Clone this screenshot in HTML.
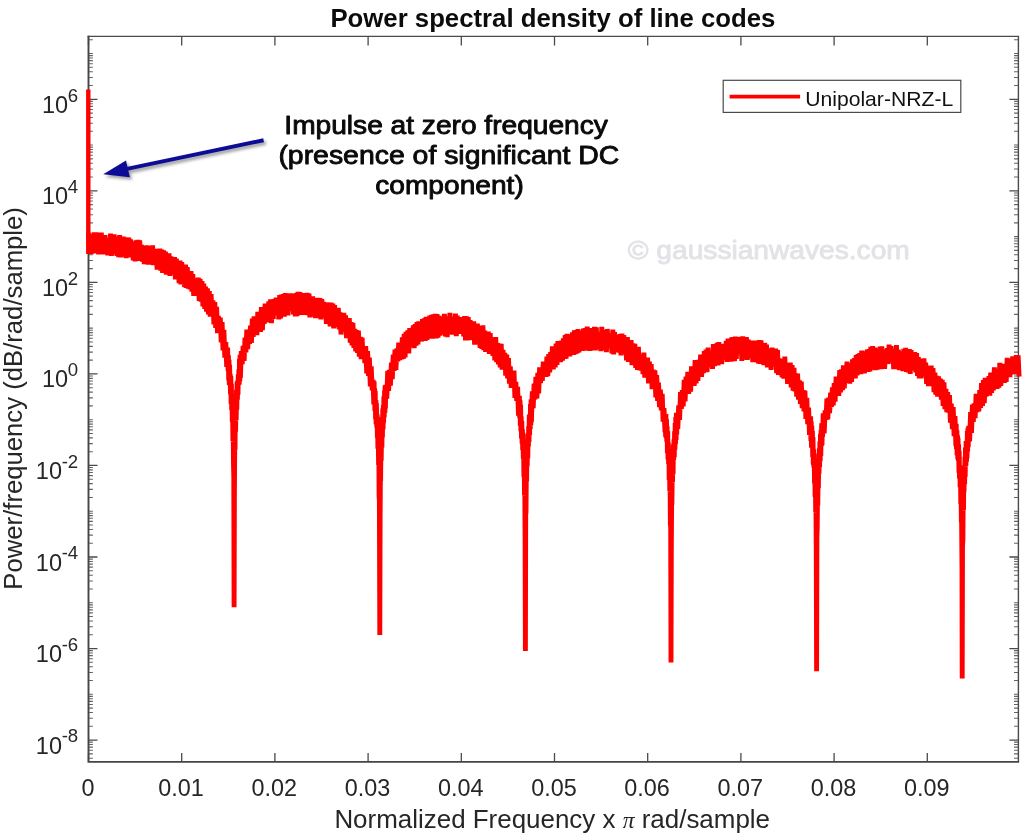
<!DOCTYPE html>
<html lang="en"><head><meta charset="utf-8"><title>Power spectral density of line codes</title>
<style>html,body{margin:0;padding:0;background:#fff}body{width:1024px;height:838px;overflow:hidden}svg{display:block}text{font-family:"Liberation Sans",Arial,Helvetica,sans-serif}</style></head><body>
<svg width="1024" height="838" viewBox="0 0 1024 838">
<defs><filter id="sh" x="-20%" y="-40%" width="140%" height="200%"><feGaussianBlur stdDeviation="1.6"/></filter></defs>
<rect width="1024" height="838" fill="#fff"/>
<path d="M88.5 758.29h4.4M1018.4 758.29h-4.4M88.5 753.86h4.4M1018.4 753.86h-4.4M88.5 750.23h4.4M1018.4 750.23h-4.4M88.5 747.17h4.4M1018.4 747.17h-4.4M88.5 744.52h4.4M1018.4 744.52h-4.4M88.5 742.17h4.4M1018.4 742.17h-4.4M88.5 726.30h4.4M1018.4 726.30h-4.4M88.5 718.24h4.4M1018.4 718.24h-4.4M88.5 712.52h4.4M1018.4 712.52h-4.4M88.5 708.09h4.4M1018.4 708.09h-4.4M88.5 704.46h4.4M1018.4 704.46h-4.4M88.5 701.40h4.4M1018.4 701.40h-4.4M88.5 698.75h4.4M1018.4 698.75h-4.4M88.5 696.40h4.4M1018.4 696.40h-4.4M88.5 694.31h4.4M1018.4 694.31h-4.4M88.5 680.53h4.4M1018.4 680.53h-4.4M88.5 672.47h4.4M1018.4 672.47h-4.4M88.5 666.75h4.4M1018.4 666.75h-4.4M88.5 662.32h4.4M1018.4 662.32h-4.4M88.5 658.69h4.4M1018.4 658.69h-4.4M88.5 655.63h4.4M1018.4 655.63h-4.4M88.5 652.98h4.4M1018.4 652.98h-4.4M88.5 650.63h4.4M1018.4 650.63h-4.4M88.5 634.76h4.4M1018.4 634.76h-4.4M88.5 626.70h4.4M1018.4 626.70h-4.4M88.5 620.98h4.4M1018.4 620.98h-4.4M88.5 616.55h4.4M1018.4 616.55h-4.4M88.5 612.92h4.4M1018.4 612.92h-4.4M88.5 609.86h4.4M1018.4 609.86h-4.4M88.5 607.21h4.4M1018.4 607.21h-4.4M88.5 604.86h4.4M1018.4 604.86h-4.4M88.5 602.77h4.4M1018.4 602.77h-4.4M88.5 588.99h4.4M1018.4 588.99h-4.4M88.5 580.93h4.4M1018.4 580.93h-4.4M88.5 575.21h4.4M1018.4 575.21h-4.4M88.5 570.78h4.4M1018.4 570.78h-4.4M88.5 567.15h4.4M1018.4 567.15h-4.4M88.5 564.09h4.4M1018.4 564.09h-4.4M88.5 561.44h4.4M1018.4 561.44h-4.4M88.5 559.09h4.4M1018.4 559.09h-4.4M88.5 543.22h4.4M1018.4 543.22h-4.4M88.5 535.16h4.4M1018.4 535.16h-4.4M88.5 529.44h4.4M1018.4 529.44h-4.4M88.5 525.01h4.4M1018.4 525.01h-4.4M88.5 521.38h4.4M1018.4 521.38h-4.4M88.5 518.32h4.4M1018.4 518.32h-4.4M88.5 515.67h4.4M1018.4 515.67h-4.4M88.5 513.32h4.4M1018.4 513.32h-4.4M88.5 511.23h4.4M1018.4 511.23h-4.4M88.5 497.45h4.4M1018.4 497.45h-4.4M88.5 489.39h4.4M1018.4 489.39h-4.4M88.5 483.67h4.4M1018.4 483.67h-4.4M88.5 479.24h4.4M1018.4 479.24h-4.4M88.5 475.61h4.4M1018.4 475.61h-4.4M88.5 472.55h4.4M1018.4 472.55h-4.4M88.5 469.90h4.4M1018.4 469.90h-4.4M88.5 467.55h4.4M1018.4 467.55h-4.4M88.5 451.68h4.4M1018.4 451.68h-4.4M88.5 443.62h4.4M1018.4 443.62h-4.4M88.5 437.90h4.4M1018.4 437.90h-4.4M88.5 433.47h4.4M1018.4 433.47h-4.4M88.5 429.84h4.4M1018.4 429.84h-4.4M88.5 426.78h4.4M1018.4 426.78h-4.4M88.5 424.13h4.4M1018.4 424.13h-4.4M88.5 421.78h4.4M1018.4 421.78h-4.4M88.5 419.69h4.4M1018.4 419.69h-4.4M88.5 405.91h4.4M1018.4 405.91h-4.4M88.5 397.85h4.4M1018.4 397.85h-4.4M88.5 392.13h4.4M1018.4 392.13h-4.4M88.5 387.70h4.4M1018.4 387.70h-4.4M88.5 384.07h4.4M1018.4 384.07h-4.4M88.5 381.01h4.4M1018.4 381.01h-4.4M88.5 378.36h4.4M1018.4 378.36h-4.4M88.5 376.01h4.4M1018.4 376.01h-4.4M88.5 360.14h4.4M1018.4 360.14h-4.4M88.5 352.08h4.4M1018.4 352.08h-4.4M88.5 346.36h4.4M1018.4 346.36h-4.4M88.5 341.93h4.4M1018.4 341.93h-4.4M88.5 338.30h4.4M1018.4 338.30h-4.4M88.5 335.24h4.4M1018.4 335.24h-4.4M88.5 332.59h4.4M1018.4 332.59h-4.4M88.5 330.24h4.4M1018.4 330.24h-4.4M88.5 328.15h4.4M1018.4 328.15h-4.4M88.5 314.37h4.4M1018.4 314.37h-4.4M88.5 306.31h4.4M1018.4 306.31h-4.4M88.5 300.59h4.4M1018.4 300.59h-4.4M88.5 296.16h4.4M1018.4 296.16h-4.4M88.5 292.53h4.4M1018.4 292.53h-4.4M88.5 289.47h4.4M1018.4 289.47h-4.4M88.5 286.82h4.4M1018.4 286.82h-4.4M88.5 284.47h4.4M1018.4 284.47h-4.4M88.5 268.60h4.4M1018.4 268.60h-4.4M88.5 260.54h4.4M1018.4 260.54h-4.4M88.5 254.82h4.4M1018.4 254.82h-4.4M88.5 250.39h4.4M1018.4 250.39h-4.4M88.5 246.76h4.4M1018.4 246.76h-4.4M88.5 243.70h4.4M1018.4 243.70h-4.4M88.5 241.05h4.4M1018.4 241.05h-4.4M88.5 238.70h4.4M1018.4 238.70h-4.4M88.5 236.61h4.4M1018.4 236.61h-4.4M88.5 222.83h4.4M1018.4 222.83h-4.4M88.5 214.77h4.4M1018.4 214.77h-4.4M88.5 209.05h4.4M1018.4 209.05h-4.4M88.5 204.62h4.4M1018.4 204.62h-4.4M88.5 200.99h4.4M1018.4 200.99h-4.4M88.5 197.93h4.4M1018.4 197.93h-4.4M88.5 195.28h4.4M1018.4 195.28h-4.4M88.5 192.93h4.4M1018.4 192.93h-4.4M88.5 177.06h4.4M1018.4 177.06h-4.4M88.5 169.00h4.4M1018.4 169.00h-4.4M88.5 163.28h4.4M1018.4 163.28h-4.4M88.5 158.85h4.4M1018.4 158.85h-4.4M88.5 155.22h4.4M1018.4 155.22h-4.4M88.5 152.16h4.4M1018.4 152.16h-4.4M88.5 149.51h4.4M1018.4 149.51h-4.4M88.5 147.16h4.4M1018.4 147.16h-4.4M88.5 145.07h4.4M1018.4 145.07h-4.4M88.5 131.29h4.4M1018.4 131.29h-4.4M88.5 123.23h4.4M1018.4 123.23h-4.4M88.5 117.51h4.4M1018.4 117.51h-4.4M88.5 113.08h4.4M1018.4 113.08h-4.4M88.5 109.45h4.4M1018.4 109.45h-4.4M88.5 106.39h4.4M1018.4 106.39h-4.4M88.5 103.74h4.4M1018.4 103.74h-4.4M88.5 101.39h4.4M1018.4 101.39h-4.4M88.5 85.52h4.4M1018.4 85.52h-4.4M88.5 77.46h4.4M1018.4 77.46h-4.4M88.5 71.74h4.4M1018.4 71.74h-4.4M88.5 67.31h4.4M1018.4 67.31h-4.4M88.5 63.68h4.4M1018.4 63.68h-4.4M88.5 60.62h4.4M1018.4 60.62h-4.4M88.5 57.97h4.4M1018.4 57.97h-4.4M88.5 55.62h4.4M1018.4 55.62h-4.4M88.5 53.53h4.4M1018.4 53.53h-4.4M88.5 39.75h4.4M1018.4 39.75h-4.4" stroke="#4a4a4a" stroke-width="1.1" fill="none" opacity="0.85"/>
<path d="M88.50 761.9v-9.0M88.50 36.4v9.0M181.70 761.9v-9.0M181.70 36.4v9.0M274.90 761.9v-9.0M274.90 36.4v9.0M368.10 761.9v-9.0M368.10 36.4v9.0M461.30 761.9v-9.0M461.30 36.4v9.0M554.50 761.9v-9.0M554.50 36.4v9.0M647.70 761.9v-9.0M647.70 36.4v9.0M740.90 761.9v-9.0M740.90 36.4v9.0M834.10 761.9v-9.0M834.10 36.4v9.0M927.30 761.9v-9.0M927.30 36.4v9.0M88.5 740.08h9.0M1018.4 740.08h-9.0M88.5 648.54h9.0M1018.4 648.54h-9.0M88.5 557.00h9.0M1018.4 557.00h-9.0M88.5 465.46h9.0M1018.4 465.46h-9.0M88.5 373.92h9.0M1018.4 373.92h-9.0M88.5 282.38h9.0M1018.4 282.38h-9.0M88.5 190.84h9.0M1018.4 190.84h-9.0M88.5 99.30h9.0M1018.4 99.30h-9.0" stroke="#4a4a4a" stroke-width="1.3" fill="none"/>
<path d="M87.55 36.4H1019.1M1018.4 36.4V761.9" stroke="#4a4a4a" stroke-width="1.4" fill="none"/>
<path d="M88.5 35.699999999999996V762.85M88.5 761.9H1019.1" stroke="#454545" stroke-width="1.9" fill="none"/>
<path d="M88.3,254.0 L88.3,89.5 L88.3,254.0" stroke="#f00" stroke-width="4.4" fill="none" stroke-linecap="butt"/>
<path d="M88.5,232.9 89.4,253.9 90.3,235.0 91.2,254.1 92.2,234.1 93.1,253.3 94.0,232.3 94.9,252.5 95.8,232.3 96.7,253.1 97.7,232.5 98.6,254.4 99.5,233.7 100.4,250.1 101.3,232.7 102.2,254.4 103.1,235.4 104.1,249.0 105.0,235.2 105.9,254.1 106.8,239.5 107.7,255.3 108.6,238.2 109.5,255.0 110.5,233.7 111.4,255.8 112.3,234.5 113.2,251.7 114.1,234.3 115.0,254.2 116.0,237.1 116.9,255.9 117.8,236.7 118.7,257.1 119.6,235.1 120.5,257.3 121.4,238.5 122.4,256.7 123.3,236.5 124.2,256.1 125.1,237.6 126.0,258.2 126.9,240.9 127.8,256.0 128.8,237.5 129.7,257.5 130.6,239.4 131.5,255.1 132.4,241.7 133.3,260.3 134.2,245.1 135.2,261.3 136.1,240.4 137.0,258.1 137.9,239.9 138.8,261.0 139.7,240.4 140.7,260.2 141.6,245.0 142.5,261.7 143.4,246.9 144.3,264.0 145.2,245.6 146.1,263.0 147.1,245.4 148.0,264.7 148.9,248.6 149.8,260.8 150.7,246.1 151.6,264.7 152.6,245.4 153.5,265.2 154.4,249.0 155.3,262.7 156.2,251.6 157.1,269.7 158.0,248.8 159.0,268.1 159.9,248.6 160.8,270.6 161.7,249.7 162.6,272.9 163.5,250.4 164.4,270.0 165.4,251.5 166.3,274.6 167.2,253.4 168.1,270.9 169.0,253.4 169.9,275.8 170.9,256.5 171.8,273.1 172.7,260.2 173.6,274.5 174.5,257.2 175.4,279.5 176.3,258.7 177.3,276.8 178.2,265.4 179.1,283.1 180.0,260.6 180.9,284.3 181.8,262.1 182.7,284.5 183.7,265.5 184.6,287.1 185.5,264.5 186.4,287.9 187.3,267.0 188.2,288.6 189.2,274.0 190.1,289.3 191.0,271.1 191.9,291.6 192.8,274.2 193.7,295.9 194.6,278.4 195.6,294.0 196.5,280.0 197.4,295.9 198.3,277.7 199.2,301.0 200.1,278.8 201.0,301.7 202.0,281.0 202.9,306.5 203.8,283.6 204.7,308.8 205.6,286.5 206.5,311.6 207.4,288.4 208.4,314.3 209.3,291.2 210.2,316.7 211.1,294.2 212.0,316.3 212.9,300.4 213.9,324.4 214.8,302.1 215.7,328.0 216.6,306.9 217.5,333.1 218.4,315.9 219.3,332.5 220.3,317.6 221.2,342.5 222.1,322.1 223.0,350.3 223.9,329.9 224.8,357.6 225.8,342.2 226.7,367.0 227.6,347.5 228.1,370.9 228.4,355.2 228.7,380.4 229.0,359.9 229.3,385.3 229.6,364.9 229.9,385.2 230.2,374.1 230.5,394.2 230.8,376.0 231.1,403.7 231.4,383.9 231.7,410.0 232.0,395.9 232.3,421.6 232.6,408.1 232.9,441.1 233.2,432.5 233.5,463.4 233.8,476.9 234.1,607.3 234.4,493.1 234.7,449.1 235.0,450.2 235.3,417.3 235.6,431.7 235.9,401.9 236.2,420.1 236.5,389.7 236.8,409.8 237.1,381.5 237.4,399.6 237.7,380.5 238.0,394.8 238.3,374.3 238.6,384.7 238.9,369.4 239.2,384.9 239.5,358.7 239.8,381.2 240.1,354.8 240.4,377.9 241.3,351.2 242.2,364.2 243.1,345.9 244.1,360.9 245.0,337.7 245.9,352.5 246.8,329.6 247.7,349.1 248.6,331.3 249.5,343.8 250.5,325.7 251.4,342.9 252.3,318.6 253.2,337.0 254.1,316.3 255.0,334.1 255.9,319.9 256.9,335.1 257.8,311.9 258.7,327.6 259.6,312.5 260.5,331.9 261.4,307.0 262.4,330.1 263.3,311.0 264.2,323.8 265.1,303.5 266.0,322.0 266.9,308.9 267.8,322.4 268.8,301.4 269.7,322.1 270.6,299.4 271.5,323.2 272.4,305.0 273.3,319.0 274.2,299.2 275.2,314.8 276.1,297.6 277.0,314.8 277.9,300.4 278.8,319.3 279.7,295.2 280.6,318.3 281.6,294.5 282.5,315.8 283.4,294.0 284.3,316.6 285.2,293.2 286.1,311.3 287.1,293.6 288.0,315.5 288.9,294.9 289.8,310.8 290.7,293.4 291.6,310.4 292.5,293.8 293.5,314.4 294.4,293.8 295.3,316.4 296.2,293.2 297.1,316.1 298.0,291.8 299.0,311.7 299.9,292.1 300.8,314.8 301.7,295.9 302.6,314.4 303.5,293.0 304.4,314.9 305.4,294.7 306.3,312.6 307.2,292.8 308.1,315.2 309.0,293.6 309.9,317.3 310.8,297.9 311.8,316.5 312.7,296.4 313.6,314.6 314.5,300.7 315.4,318.0 316.3,298.0 317.2,318.2 318.2,297.8 319.1,317.3 320.0,298.1 320.9,319.5 321.8,299.1 322.7,315.9 323.7,301.9 324.6,317.6 325.5,305.8 326.4,323.8 327.3,302.5 328.2,318.8 329.1,306.5 330.1,326.3 331.0,302.6 331.9,326.2 332.8,303.7 333.7,328.5 334.6,305.1 335.6,327.0 336.5,311.0 337.4,325.8 338.3,307.9 339.2,329.4 340.1,312.4 341.0,334.5 342.0,316.5 342.9,329.5 343.8,312.8 344.7,331.5 345.6,315.3 346.5,338.1 347.4,323.2 348.4,336.9 349.3,318.2 350.2,342.6 351.1,322.2 352.0,345.4 352.9,322.8 353.9,348.0 354.8,328.9 355.7,351.4 356.6,330.0 357.5,352.9 358.4,330.7 359.3,356.7 360.3,336.8 361.2,359.2 362.1,337.5 363.0,358.4 363.9,346.1 364.8,363.0 365.7,346.1 366.7,373.5 367.6,351.1 368.5,375.8 369.4,357.7 370.3,386.5 371.2,366.4 372.2,390.3 373.1,379.8 373.8,404.5 374.1,381.4 374.4,404.0 374.6,388.2 374.9,410.9 375.2,390.9 375.6,419.2 375.9,400.1 376.1,424.3 376.4,403.3 376.8,427.4 377.1,414.3 377.4,437.8 377.6,421.4 377.9,448.8 378.2,434.9 378.6,464.9 378.9,456.7 379.1,496.3 379.4,501.2 379.8,634.9 380.1,519.5 380.4,472.1 380.6,481.0 380.9,446.1 381.2,460.6 381.6,428.1 381.9,447.5 382.1,416.7 382.4,437.5 382.8,408.6 383.1,429.3 383.4,405.0 383.6,422.8 383.9,396.6 384.2,417.5 384.6,390.4 384.9,412.8 385.1,385.4 385.4,408.5 385.8,384.8 386.8,398.6 387.7,370.9 388.6,390.9 389.5,369.9 390.4,385.7 391.4,362.6 392.3,379.1 393.2,354.6 394.1,371.0 395.0,349.7 395.9,370.0 396.9,348.4 397.8,361.5 398.7,342.6 399.6,360.2 400.5,342.5 401.4,359.4 402.3,337.4 403.3,358.9 404.2,333.9 405.1,357.4 406.0,331.8 406.9,351.5 407.8,330.3 408.8,353.4 409.7,328.1 410.6,346.6 411.5,332.0 412.4,346.9 413.3,325.4 414.2,348.2 415.2,324.0 416.1,345.7 417.0,322.2 417.9,344.5 418.8,321.3 419.7,337.9 420.6,326.6 421.6,341.5 422.5,319.1 423.4,335.8 424.3,318.4 425.2,340.9 426.1,316.9 427.1,340.0 428.0,317.8 428.9,338.5 429.8,315.7 430.7,337.8 431.6,314.9 432.5,338.7 433.5,314.4 434.4,337.5 435.3,313.9 436.2,338.3 437.1,314.2 438.0,337.6 438.9,315.8 439.9,335.6 440.8,317.2 441.7,334.3 442.6,316.6 443.5,331.6 444.4,313.8 445.4,336.5 446.3,319.8 447.2,337.1 448.1,316.6 449.0,334.3 449.9,312.8 450.8,332.3 451.8,318.8 452.7,334.7 453.6,317.1 454.5,333.0 455.4,313.5 456.3,336.1 457.2,315.6 458.2,333.3 459.1,318.9 460.0,333.9 460.9,317.1 461.8,333.5 462.7,318.5 463.7,336.4 464.6,316.0 465.5,340.5 466.4,316.4 467.3,340.3 468.2,317.1 469.1,336.8 470.1,320.1 471.0,339.9 471.9,321.5 472.8,340.2 473.7,321.3 474.6,344.6 475.5,325.2 476.5,341.5 477.4,323.5 478.3,344.7 479.2,326.0 480.1,347.9 481.0,328.0 481.9,348.8 482.9,325.4 483.8,350.1 484.7,330.7 485.6,351.8 486.5,332.2 487.4,346.6 488.4,331.5 489.3,354.0 490.2,333.0 491.1,353.4 492.0,337.3 492.9,355.9 493.8,337.9 494.8,360.5 495.7,337.0 496.6,362.2 497.5,343.0 498.4,364.3 499.3,343.6 500.2,367.4 501.2,343.8 502.1,369.6 503.0,349.8 503.9,369.7 504.8,352.8 505.7,375.6 506.7,354.7 507.6,378.3 508.5,358.0 509.4,383.6 510.3,366.4 511.2,387.9 512.1,372.2 513.1,387.7 514.0,370.5 514.9,397.8 515.8,381.8 516.7,400.9 517.6,386.9 518.5,415.7 519.4,395.9 519.7,417.9 520.0,400.2 520.3,425.7 520.6,404.7 520.9,431.1 521.2,416.6 521.5,438.4 521.8,421.0 522.1,443.6 522.4,429.2 522.7,450.2 523.0,432.7 523.3,458.4 523.6,445.5 523.9,476.7 524.2,459.9 524.5,495.6 524.8,489.0 525.1,540.2 525.4,651.0 525.7,515.3 526.0,512.6 526.3,472.3 526.6,481.5 526.9,451.3 527.2,466.3 527.5,443.2 527.8,458.3 528.1,434.4 528.4,446.5 528.7,426.1 529.0,441.9 529.3,414.6 529.6,435.4 529.9,415.3 530.2,429.0 530.5,404.0 530.8,425.4 531.1,399.3 531.4,422.3 532.3,391.3 533.2,408.1 534.1,383.5 535.0,399.4 535.9,376.8 536.9,398.3 537.8,372.8 538.7,393.4 539.6,367.3 540.5,383.1 541.4,368.0 542.3,380.9 543.3,361.6 544.2,376.2 545.1,362.0 546.0,376.8 546.9,356.5 547.8,376.2 548.7,354.1 549.7,372.3 550.6,352.0 551.5,368.5 552.4,346.3 553.3,369.4 554.2,350.2 555.2,367.5 556.1,343.7 557.0,365.0 557.9,341.1 558.8,360.2 559.7,345.9 560.6,362.2 561.6,340.6 562.5,360.6 563.4,338.3 564.3,358.8 565.2,335.0 566.1,358.6 567.0,333.9 568.0,351.6 568.9,334.4 569.8,356.3 570.7,337.7 571.6,348.4 572.5,332.3 573.5,354.8 574.4,330.3 575.3,354.1 576.2,330.1 577.1,353.5 578.0,329.1 578.9,352.5 579.9,330.5 580.8,346.7 581.7,331.8 582.6,350.8 583.5,328.5 584.4,349.6 585.3,328.0 586.3,350.5 587.2,326.7 588.1,350.6 589.0,333.4 589.9,350.8 590.8,328.2 591.8,347.9 592.7,331.7 593.6,350.5 594.5,326.8 595.4,350.4 596.3,327.4 597.2,349.4 598.2,333.1 599.1,345.7 600.0,332.2 600.9,351.2 601.8,326.8 602.7,347.8 603.6,333.0 604.6,350.2 605.5,330.0 606.4,352.2 607.3,329.0 608.2,346.3 609.1,333.4 610.1,347.8 611.0,335.9 611.9,353.3 612.8,329.6 613.7,354.3 614.6,332.2 615.5,351.7 616.5,337.5 617.4,352.1 618.3,334.9 619.2,352.5 620.1,334.2 621.0,355.5 621.9,333.7 622.9,354.2 623.8,335.1 624.7,353.6 625.6,338.9 626.5,360.4 627.4,337.2 628.4,361.9 629.3,341.4 630.2,360.1 631.1,340.0 632.0,365.1 632.9,343.3 633.8,364.1 634.8,343.9 635.7,367.8 636.6,347.0 637.5,369.9 638.4,346.8 639.3,370.2 640.2,354.7 641.2,370.7 642.1,355.7 643.0,374.2 643.9,352.5 644.8,377.7 645.7,361.3 646.6,377.2 647.6,357.7 648.5,383.3 649.4,361.6 650.3,383.2 651.2,364.2 652.1,389.2 653.1,369.6 654.0,387.6 654.9,370.4 655.8,397.4 656.7,375.2 657.6,400.9 658.5,382.7 659.5,407.2 660.4,389.6 661.3,410.4 662.2,393.8 663.1,421.7 664.0,408.2 665.0,432.2 665.3,414.2 665.6,436.7 665.9,414.0 666.2,438.2 666.5,419.3 666.8,441.6 667.1,426.2 667.4,453.0 667.7,431.4 668.0,459.5 668.3,442.3 668.6,464.0 668.9,449.2 669.2,479.9 669.5,462.8 669.8,491.3 670.1,483.0 670.4,524.6 670.7,526.6 671.0,662.5 671.3,551.3 671.6,505.0 671.9,503.9 672.2,475.5 672.5,482.3 672.8,461.9 673.1,474.4 673.4,444.3 673.7,459.8 674.0,439.4 674.3,457.1 674.6,431.3 674.9,449.7 675.2,423.0 675.5,444.3 675.8,417.0 676.1,440.0 676.4,412.7 676.7,434.9 677.0,414.7 677.8,428.9 678.7,405.4 679.6,419.9 680.5,392.0 681.4,409.0 682.3,390.0 683.2,406.4 684.2,379.9 685.1,401.3 686.0,376.5 686.9,392.8 687.8,371.9 688.7,393.9 689.7,374.1 690.6,391.6 691.5,366.4 692.4,384.0 693.3,366.8 694.2,386.0 695.1,360.0 696.1,383.5 697.0,364.0 697.9,380.9 698.8,359.8 699.7,373.5 700.6,354.6 701.6,377.0 702.5,358.8 703.4,373.1 704.3,351.0 705.2,370.5 706.1,349.7 707.0,372.2 708.0,347.5 708.9,367.1 709.8,352.3 710.7,367.1 711.6,351.4 712.5,368.8 713.4,344.1 714.4,366.1 715.3,349.4 716.2,360.1 717.1,342.8 718.0,365.4 718.9,342.2 719.9,363.2 720.8,346.4 721.7,364.1 722.6,344.1 723.5,359.6 724.4,343.8 725.3,358.7 726.3,340.9 727.2,361.8 728.1,338.5 729.0,361.1 729.9,341.8 730.8,361.7 731.7,337.3 732.7,357.3 733.6,337.2 734.5,361.2 735.4,336.5 736.3,358.8 737.2,337.2 738.1,353.8 739.1,342.1 740.0,353.7 740.9,336.8 741.8,360.8 742.7,336.4 743.6,359.1 744.6,340.1 745.5,359.6 746.4,337.0 747.3,360.0 748.2,339.7 749.1,358.2 750.0,341.2 751.0,356.6 751.9,340.7 752.8,362.1 753.7,343.1 754.6,362.1 755.5,340.7 756.5,362.2 757.4,342.9 758.3,363.5 759.2,340.0 760.1,364.0 761.0,340.4 761.9,359.4 762.9,343.4 763.8,365.2 764.7,343.0 765.6,359.6 766.5,344.6 767.4,367.4 768.3,348.5 769.3,365.6 770.2,352.0 771.1,369.8 772.0,347.6 772.9,366.1 773.8,352.4 774.8,366.2 775.7,348.5 776.6,373.1 777.5,350.0 778.4,375.0 779.3,358.3 780.2,374.2 781.2,359.2 782.1,377.3 783.0,360.0 783.9,378.6 784.8,356.7 785.7,377.6 786.6,364.7 787.6,383.8 788.5,362.8 789.4,383.4 790.3,362.7 791.2,387.5 792.1,365.0 793.1,390.7 794.0,367.9 794.9,391.4 795.8,373.4 796.7,396.6 797.6,373.5 798.5,399.6 799.5,380.4 800.4,403.9 801.3,381.7 802.2,408.2 803.1,390.1 804.0,411.4 804.9,390.7 805.9,419.0 806.8,397.9 807.7,424.1 808.6,407.6 809.5,435.0 810.6,416.3 810.9,440.9 811.2,421.6 811.5,447.8 811.8,425.7 812.1,447.8 812.4,431.1 812.7,457.0 813.0,437.4 813.3,464.6 813.6,449.3 813.9,467.6 814.2,453.6 814.5,483.4 814.8,468.0 815.1,496.8 815.4,480.3 815.7,512.5 816.0,509.2 816.3,557.0 816.6,671.3 816.9,536.7 817.2,528.9 817.5,493.4 817.8,505.9 818.1,471.6 818.4,488.1 818.7,461.2 819.0,473.6 819.3,448.3 819.6,467.4 819.9,441.3 820.2,461.0 820.5,433.9 820.8,456.0 821.1,430.1 821.4,446.0 821.7,423.3 822.0,445.1 822.3,423.6 822.6,436.8 823.2,413.2 824.2,433.4 825.1,410.4 826.0,419.8 826.9,398.7 827.8,419.4 828.7,397.7 829.6,413.1 830.6,392.6 831.5,407.0 832.4,387.4 833.3,405.4 834.2,383.2 835.1,401.7 836.1,376.6 837.0,393.9 837.9,377.6 838.8,395.8 839.7,370.2 840.6,392.3 841.5,369.4 842.5,390.1 843.4,365.4 844.3,388.5 845.2,367.2 846.1,381.2 847.0,361.5 848.0,382.9 848.9,364.0 849.8,383.6 850.7,363.4 851.6,381.9 852.5,359.3 853.4,378.3 854.4,358.1 855.3,378.5 856.2,355.2 857.1,375.4 858.0,354.0 858.9,373.5 859.8,353.0 860.8,374.2 861.7,350.6 862.6,371.8 863.5,351.4 864.4,373.4 865.3,353.1 866.2,368.5 867.2,349.6 868.1,372.0 869.0,349.0 869.9,371.5 870.8,346.8 871.7,369.6 872.7,346.2 873.6,369.1 874.5,347.6 875.4,370.1 876.3,348.3 877.2,369.7 878.1,348.9 879.1,365.0 880.0,346.6 880.9,369.2 881.8,346.4 882.7,368.0 883.6,351.0 884.6,368.8 885.5,349.7 886.4,361.6 887.3,348.2 888.2,364.0 889.1,344.6 890.0,361.9 891.0,346.2 891.9,362.4 892.8,350.8 893.7,369.1 894.6,349.4 895.5,363.2 896.4,345.2 897.4,369.0 898.3,349.7 899.2,370.1 900.1,351.9 901.0,370.2 901.9,351.3 902.9,371.1 903.8,348.8 904.7,365.6 905.6,347.9 906.5,372.0 907.4,350.2 908.3,372.5 909.3,349.1 910.2,373.8 911.1,350.1 912.0,368.5 912.9,354.2 913.8,370.0 914.7,352.0 915.7,372.4 916.6,353.0 917.5,376.0 918.4,357.1 919.3,378.3 920.2,361.0 921.1,378.3 922.1,359.2 923.0,376.3 923.9,358.3 924.8,376.2 925.7,362.5 926.6,383.9 927.6,365.9 928.5,386.1 929.4,370.1 930.3,386.0 931.2,365.6 932.1,386.1 933.0,368.0 934.0,392.1 934.9,372.7 935.8,394.6 936.7,375.9 937.6,396.6 938.5,376.4 939.5,393.0 940.4,378.7 941.3,399.6 942.2,379.8 943.1,405.8 944.0,382.4 944.9,409.2 945.9,388.9 946.8,412.1 947.7,392.2 948.6,412.7 949.5,395.1 950.4,422.7 951.3,403.6 952.3,429.2 953.2,407.0 954.1,436.1 955.0,416.0 955.9,446.2 956.2,423.8 956.5,449.1 956.9,430.2 957.1,455.3 957.5,435.2 957.8,459.2 958.0,437.8 958.4,460.9 958.6,444.2 959.0,472.8 959.2,451.1 959.5,478.4 959.9,465.5 960.1,487.2 960.5,472.6 960.8,503.9 961.0,487.5 961.4,522.1 961.6,517.4 962.0,567.6 962.2,678.6 962.5,545.8 962.9,539.6 963.1,505.5 963.5,510.0 963.8,479.2 964.0,492.3 964.4,465.5 964.6,484.1 965.0,456.7 965.2,476.6 965.5,447.6 965.9,466.1 966.1,441.0 966.5,461.8 966.8,441.8 967.0,458.3 967.4,430.7 967.6,451.5 968.0,427.9 968.2,447.1 968.7,425.8 969.6,441.3 970.6,412.2 971.5,432.8 972.4,404.6 973.3,421.9 974.2,403.4 975.1,418.2 976.1,393.9 977.0,412.2 977.9,393.8 978.8,411.4 979.7,390.1 980.6,407.9 981.5,383.1 982.5,406.0 983.4,380.1 984.3,403.2 985.2,377.9 986.1,396.7 987.0,378.2 987.9,393.2 988.9,376.2 989.8,395.6 990.7,372.7 991.6,392.8 992.5,373.1 993.4,390.3 994.4,367.4 995.3,387.6 996.2,372.2 997.1,388.8 998.0,369.5 998.9,387.6 999.8,362.8 1000.8,385.8 1001.7,365.0 1002.6,378.3 1003.5,363.8 1004.4,382.9 1005.3,364.2 1006.2,381.8 1007.2,357.9 1008.1,375.5 1009.0,359.5 1009.9,377.1 1010.8,358.9 1011.7,372.8 1012.7,356.5 1013.6,373.9 1014.5,357.8 1015.4,373.0 1016.3,355.0 1017.2,374.0 1018.1,355.4 1019.1,376.6" stroke="#f00" stroke-width="4.9" fill="none" stroke-linejoin="bevel"/>
<text x="552.9" y="26.9" font-size="25.5" text-anchor="middle" fill="#0c0c0c" font-weight="bold" textLength="445" lengthAdjust="spacingAndGlyphs">Power spectral density of line codes</text>
<text x="87.9" y="795.8" font-size="23.4" text-anchor="middle" fill="#262626">0</text>
<text x="181.1" y="795.8" font-size="23.4" text-anchor="middle" fill="#262626">0.01</text>
<text x="274.3" y="795.8" font-size="23.4" text-anchor="middle" fill="#262626">0.02</text>
<text x="367.5" y="795.8" font-size="23.4" text-anchor="middle" fill="#262626">0.03</text>
<text x="460.7" y="795.8" font-size="23.4" text-anchor="middle" fill="#262626">0.04</text>
<text x="553.9" y="795.8" font-size="23.4" text-anchor="middle" fill="#262626">0.05</text>
<text x="647.1" y="795.8" font-size="23.4" text-anchor="middle" fill="#262626">0.06</text>
<text x="740.3" y="795.8" font-size="23.4" text-anchor="middle" fill="#262626">0.07</text>
<text x="833.5" y="795.8" font-size="23.4" text-anchor="middle" fill="#262626">0.08</text>
<text x="926.7" y="795.8" font-size="23.4" text-anchor="middle" fill="#262626">0.09</text>
<text x="62.0" y="753.6" font-size="23.5" text-anchor="end" fill="#262626">10</text>
<text x="78.2" y="742.4" font-size="18.6" text-anchor="end" fill="#262626">-8</text>
<text x="62.0" y="662.0" font-size="23.5" text-anchor="end" fill="#262626">10</text>
<text x="78.2" y="650.8" font-size="18.6" text-anchor="end" fill="#262626">-6</text>
<text x="62.0" y="570.5" font-size="23.5" text-anchor="end" fill="#262626">10</text>
<text x="78.2" y="559.3" font-size="18.6" text-anchor="end" fill="#262626">-4</text>
<text x="62.0" y="479.0" font-size="23.5" text-anchor="end" fill="#262626">10</text>
<text x="78.2" y="467.8" font-size="18.6" text-anchor="end" fill="#262626">-2</text>
<text x="68.2" y="387.4" font-size="23.5" text-anchor="end" fill="#262626">10</text>
<text x="78.2" y="376.2" font-size="18.6" text-anchor="end" fill="#262626">0</text>
<text x="68.2" y="295.9" font-size="23.5" text-anchor="end" fill="#262626">10</text>
<text x="78.2" y="284.7" font-size="18.6" text-anchor="end" fill="#262626">2</text>
<text x="68.2" y="204.3" font-size="23.5" text-anchor="end" fill="#262626">10</text>
<text x="78.2" y="193.1" font-size="18.6" text-anchor="end" fill="#262626">4</text>
<text x="68.2" y="112.8" font-size="23.5" text-anchor="end" fill="#262626">10</text>
<text x="78.2" y="101.6" font-size="18.6" text-anchor="end" fill="#262626">6</text>
<text x="552.2" y="827.8" font-size="25.4" text-anchor="middle" fill="#262626" textLength="435.6" lengthAdjust="spacingAndGlyphs">Normalized Frequency x <tspan font-family="'Liberation Serif',serif" font-style="italic" font-size="23">π</tspan> rad/sample</text>
<text transform="translate(22.3 398.4) rotate(-90)" font-size="25.4" text-anchor="middle" fill="#262626" textLength="382.6" lengthAdjust="spacingAndGlyphs">Power/frequency (dB/rad/sample)</text>
<rect x="723.2" y="80.3" width="237.6" height="32.1" fill="#fff" stroke="#4a4a4a" stroke-width="1.2"/>
<path d="M729.6 96.7H800.1" stroke="#f00" stroke-width="3.7"/>
<text x="805.2" y="106.0" font-size="20.8" text-anchor="start" fill="#111" textLength="148" lengthAdjust="spacingAndGlyphs">Unipolar-NRZ-L</text>
<text x="768.8" y="258.8" font-size="26.6" text-anchor="middle" fill="#e3e3e7" textLength="282" lengthAdjust="spacingAndGlyphs" stroke="#e3e3e7" stroke-width="0.9" stroke-linejoin="round">© gaussianwaves.com</text>
<text x="446.1" y="133.9" font-size="26.6" text-anchor="middle" fill="#0a0a0a" textLength="323.5" lengthAdjust="spacingAndGlyphs" stroke="#0a0a0a" stroke-width="0.9" stroke-linejoin="round">Impulse at zero frequency</text>
<text x="448.9" y="164.4" font-size="26.6" text-anchor="middle" fill="#0a0a0a" textLength="341" lengthAdjust="spacingAndGlyphs" stroke="#0a0a0a" stroke-width="0.9" stroke-linejoin="round">(presence of significant DC</text>
<text x="449.5" y="194.0" font-size="26.6" text-anchor="middle" fill="#0a0a0a" textLength="148.5" lengthAdjust="spacingAndGlyphs" stroke="#0a0a0a" stroke-width="0.9" stroke-linejoin="round">component)</text>
<g transform="translate(2.2 2.6)" filter="url(#sh)" opacity="0.55"><path d="M263.6 140.2L127 168.9" stroke="#555" stroke-width="4" fill="none"/><path d="M103.2 174.3L126.0 160.4L129.9 177.2Z" fill="#555"/></g>
<path d="M263.6 140.2L127 168.9" stroke="#0c0c96" stroke-width="4" fill="none"/><path d="M103.2 174.3L126.0 160.4L129.9 177.2Z" fill="#0c0c96"/>
</svg></body></html>
